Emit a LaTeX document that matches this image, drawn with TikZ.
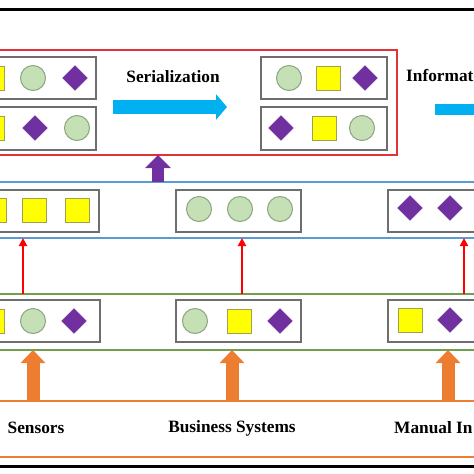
\documentclass[tikz,border=0pt]{standalone}
\usepackage{fontspec}
\setmainfont{Liberation Serif}
\usetikzlibrary{shapes.geometric,arrows.meta}
\definecolor{boxgray}{RGB}{110,110,110}
\definecolor{layblue}{RGB}{91,155,213}
\definecolor{laygreen}{RGB}{112,160,80}
\definecolor{layorange}{RGB}{237,125,49}
\definecolor{arrcyan}{RGB}{0,176,240}
\definecolor{shpurple}{RGB}{112,48,160}
\definecolor{shgreen}{RGB}{197,224,180}
\definecolor{shgreenb}{RGB}{140,165,130}
\definecolor{shyellow}{RGB}{255,255,0}
\definecolor{shyellowb}{RGB}{160,160,80}
\definecolor{rectred}{RGB}{225,50,55}
\tikzset{
  sq/.style={rectangle, minimum size=24pt, inner sep=0pt, fill=shyellow, draw=shyellowb, line width=1pt},
  circ/.style={circle, minimum size=25pt, inner sep=0pt, fill=shgreen, draw=shgreenb, line width=1pt},
  dia/.style={diamond, minimum size=25pt, inner sep=0pt, fill=shpurple, draw=shpurple},
  gbox/.style={draw=boxgray, line width=1.3pt, fill=white},
  lbl/.style={font=\fontsize{17.3}{20}\selectfont\bfseries, inner sep=0pt},
  redarr/.style={draw=red, line width=2pt, -{Triangle[width=8pt,length=8pt]}},
  blockarr/.style n args={4}{draw=#1, line width=#2, -{Triangle[width=#3,length=#4]}},
}
\begin{document}
\begin{tikzpicture}[x=1pt,y=-1pt]
\useasboundingbox (0,0) rectangle (474,474);
\clip (0,0) rectangle (474,474);
\fill[white] (0,0) rectangle (474,474);
% frame lines
\draw[black, line width=3pt] (-5,9) -- (480,9);
\draw[black, line width=3pt] (-5,466) -- (480,466);
% layer lines
\draw[layblue, line width=2pt] (-5,182) -- (480,182);
\draw[layblue, line width=2pt] (-5,238) -- (480,238);
\draw[laygreen, line width=1.6pt] (-5,294) -- (480,294);
\draw[laygreen, line width=1.6pt] (-5,350) -- (480,350);
\draw[layorange, line width=2.6pt] (-5,401) -- (480,401);
\draw[layorange, line width=2.6pt] (-5,457) -- (480,457);
% red container
\draw[rectred, line width=1.5pt] (-10,50) rectangle (397,155);
% boxes in red container
\draw[gbox] (-10,57) rectangle (96,99);
\draw[gbox] (-10,107) rectangle (96,150);
\draw[gbox] (261,57) rectangle (387,99);
\draw[gbox] (261,107) rectangle (387,150);
\node[sq] (a1) at (-8,78) {};
\node[circ] (a2) at (33,78) {};
\node[dia] (a3) at (75,78) {};
\node[sq] (b1) at (-8,128) {};
\node[dia] (b2) at (35,128) {};
\node[circ] (b3) at (77,128) {};
\node[circ] (c1) at (289,78) {};
\node[sq] (c2) at (328,78) {};
\node[dia] (c3) at (365,78) {};
\node[dia] (d1) at (281,128) {};
\node[sq] (d2) at (324,128) {};
\node[circ] (d3) at (362,128) {};
% serialization
\node[lbl] (ser) at (173,77) {Serialization};
\coordinate (s1) at (113,107);
\coordinate (s2) at (227,107);
\draw[blockarr={arrcyan}{14pt}{25pt}{11pt}] (s1) -- (s2);
\node[lbl, anchor=west] (inf) at (406,75) {Informat};
\coordinate (i1) at (435,109);
\coordinate (i2) at (500,109);
\draw[arrcyan, line width=11pt] (i1) -- (i2);
% purple arrow
\coordinate (p1) at (158,182);
\coordinate (p2) at (158,155);
\draw[blockarr={shpurple}{12pt}{25pt}{13pt}] (p1) -- (p2);
% row 2
\draw[gbox] (-10,190) rectangle (99,232);
\draw[gbox] (176,190) rectangle (301,232);
\draw[gbox] (388,190) rectangle (490,232);
\node[sq] (e1) at (-6,210) {};
\node[sq] (e2) at (34,210) {};
\node[sq] (e3) at (77,210) {};
\node[circ] (f1) at (199,209) {};
\node[circ] (f2) at (240,209) {};
\node[circ] (f3) at (280,209) {};
\node[dia] (g1) at (410,208) {};
\node[dia] (g2) at (450,208) {};
% row 3
\draw[gbox] (-10,300) rectangle (100,342);
\draw[gbox] (176,300) rectangle (301,342);
\draw[gbox] (388,300) rectangle (490,342);
\node[sq] (h1) at (-8,321) {};
\node[circ] (h2) at (33,321) {};
\node[dia] (h3) at (74,321) {};
\node[circ] (j1) at (195,321) {};
\node[sq] (j2) at (239,321) {};
\node[dia] (j3) at (280,321) {};
\node[sq] (k1) at (410,320) {};
\node[dia] (k2) at (450,320) {};
% red arrows
\coordinate (r1s) at (23,294); \coordinate (r1e) at (23,238);
\coordinate (r2s) at (242,294); \coordinate (r2e) at (242,238);
\coordinate (r3s) at (464,294); \coordinate (r3e) at (464,238);
\draw[redarr] (r1s) -- (r1e);
\draw[redarr] (r2s) -- (r2e);
\draw[redarr] (r3s) -- (r3e);
% orange arrows
\coordinate (o1s) at (33,401); \coordinate (o1e) at (33,350);
\coordinate (o2s) at (232,401); \coordinate (o2e) at (232,350);
\coordinate (o3s) at (448,401); \coordinate (o3e) at (448,350);
\draw[blockarr={layorange}{13pt}{24pt}{13pt}] (o1s) -- (o1e);
\draw[blockarr={layorange}{13pt}{24pt}{13pt}] (o2s) -- (o2e);
\draw[blockarr={layorange}{13pt}{24pt}{13pt}] (o3s) -- (o3e);
% source labels
\node[lbl] (sen) at (36,428) {Sensors};
\node[lbl] (bus) at (232,428) {Business Systems};
\node[lbl, anchor=west] (man) at (394,428) {Manual In};
\end{tikzpicture}
\end{document}
